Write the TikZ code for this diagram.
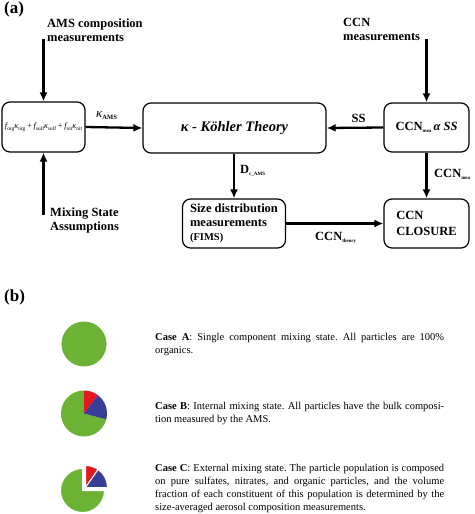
\documentclass[tikz,border=0pt]{standalone}
\usepackage{fontspec}
\usepackage{graphicx}
\setmainfont{Liberation Serif}
\usetikzlibrary{arrows.meta}
\definecolor{pgreen}{RGB}{108,178,52}
\definecolor{pred}{RGB}{228,22,30}
\definecolor{pblue}{RGB}{54,62,150}
\newcommand\lsub[1]{\raisebox{-0.45ex}{\fontsize{6.5}{6.5}\selectfont #1}}
\newcommand\tsub[1]{\raisebox{-0.4ex}{\fontsize{5}{5}\selectfont #1}}
\frenchspacing
\begin{document}
\begin{tikzpicture}[x=1pt,y=-1pt,
  box/.style={draw, line width=1.2pt, rounded corners=8pt, inner sep=0pt},
  arr/.style={line width=2.3pt, -{Latex[length=9pt,width=8pt]}},
  hd/.style={font=\fontsize{12.5}{14}\selectfont\bfseries, align=left, inner sep=0pt},
  lbl/.style={font=\fontsize{12.5}{14}\selectfont\bfseries, inner sep=0pt},
  panel/.style={font=\fontsize{17}{20}\selectfont\bfseries, inner sep=0pt},
  casetxt/.style={font=\fontsize{10.5}{13.4}\selectfont, inner sep=0pt, text width=289pt, align=justify}]
\useasboundingbox (0,0) rectangle (474,514);

% ---------- panel (a) ----------
\node[panel, anchor=base west] (pa) at (4,13) {(a)};

\node[hd, anchor=north west] (ams) at (47,18.5) {AMS composition\\measurements};
\node[hd, anchor=north west] (mixst) at (50,208) {Mixing State\\Assumptions};
\node[hd, anchor=north west] (ccnmeas) at (343,18.5) {CCN\\measurements};

\node[box, minimum width=83pt, minimum height=50pt] (mix) at (43.5,127)
  {\resizebox{77pt}{!}{\itshape f\lsub{\upshape org}κ\lsub{\upshape org}\,+\,f\lsub{\upshape sulf}κ\lsub{\upshape sulf}\,+\,f\lsub{\upshape nit}κ\lsub{\upshape nit}}};
\node[box, minimum width=183pt, minimum height=50pt,
  font=\fontsize{14.5}{16}\selectfont\bfseries\itshape] (kohler) at (234.5,128) {κ - Köhler Theory};
\node[box, minimum width=85pt, minimum height=49pt, font=\fontsize{12.5}{14}\selectfont\bfseries]
  (ccnm) at (426.5,127.5) {CCN\tsub{mea}\,{\itshape α SS}};
\node[box, minimum width=103pt, minimum height=49pt, align=left,
  font=\fontsize{12.5}{14}\selectfont\bfseries] (size) at (234,223.5)
  {Size distribution\\measurements\\{\fontsize{10.5}{12}\selectfont (FIMS)}};
\node[box, minimum width=85pt, minimum height=49pt, align=left,
  font=\fontsize{12.5}{14}\selectfont\bfseries] (closure) at (426.5,223.5) {CCN\\[2pt]CLOSURE};

\coordinate (amsA) at (43.5,39);
\coordinate (mixA) at (43.5,215);
\coordinate (ccnA) at (426.5,39);

\draw[arr] (amsA) -- (mix.north);
\draw[arr] (mixA) -- (mix.south);
\draw[arr] (ccnA) -- (ccnm.north);
\draw[arr] (mix.east) -- (kohler.west);
\draw[arr] (ccnm.west) -- (kohler.east);
\draw[arr] (ccnm.south) -- (closure.north);
\draw[arr] (size.north |- kohler.south) -- (size.north);
\draw[arr] (size.east) -- (closure.west);

\node[anchor=base west, inner sep=0pt] (kams) at (96,117)
  {\fontsize{13}{14}\selectfont\itshape κ\lsub{\upshape\bfseries AMS}};
\node[lbl, anchor=base west] (ss) at (351.5,122) {SS};
\node[lbl, anchor=base west] (ccnmealbl) at (434,177) {CCN\tsub{mea}};
\node[lbl, anchor=base west] (dc) at (240,173) {D\tsub{c\_AMS}};
\node[lbl, anchor=base west] (ccnth) at (315,240) {CCN\tsub{theory}};

% ---------- panel (b) ----------
\node[panel, anchor=base west] (pb) at (4,301) {(b)};

% Case A pie
\fill[pgreen] (84,344) circle[radius=22.5pt];
% Case B pie
\coordinate (pbc) at (84,413.5);
\fill[pgreen] (pbc) -- ++(-15:23pt) arc[start angle=-15, end angle=-270, radius=23pt] -- cycle;
\fill[pred] (pbc) -- ++(90:23pt) arc[start angle=90, end angle=53, radius=23pt] -- cycle;
\fill[pblue] (pbc) -- ++(53:23pt) arc[start angle=53, end angle=-15, radius=23pt] -- cycle;
% Case C pie (exploded)
\coordinate (pcc) at (82.5,490.5);
\coordinate (pcs) at (85.5,487.5);
\filldraw[pgreen, draw=white, line width=1pt] (pcc) -- ++(0:22pt) arc[start angle=0, end angle=-270, radius=22pt] -- cycle;
\filldraw[pred, draw=white, line width=1pt] (pcs) -- ++(90:22pt) arc[start angle=90, end angle=55, radius=22pt] -- cycle;
\filldraw[pblue, draw=white, line width=1pt] (pcs) -- ++(55:22pt) arc[start angle=55, end angle=0, radius=22pt] -- cycle;

\node[casetxt, anchor=north west] (casea) at (155,333)
  {\textbf{Case A}: Single component mixing state. All particles are 100\%\linebreak organics.};
\node[casetxt, anchor=north west] (caseb) at (155,402)
  {\textbf{Case B}: Internal mixing state. All particles have the bulk composi-\linebreak tion measured by the AMS.};
\node[casetxt, anchor=north west, font=\fontsize{10.5}{13.1}\selectfont] (casec) at (155,464)
  {\textbf{Case C}: External mixing state. The particle population is composed\linebreak on pure sulfates, nitrates, and organic particles, and the volume\linebreak fraction of each constituent of this population is determined by the\linebreak size-averaged aerosol composition measurements.};
\end{tikzpicture}
\end{document}
